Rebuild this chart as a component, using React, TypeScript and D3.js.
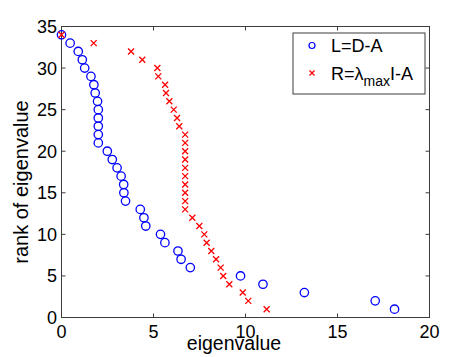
import React from "react";
import * as d3 from "d3";

const ranks = d3.range(1, 35);
const lEigen = [18.1, 17.05, 13.2, 10.95, 9.73, 7.0, 6.5, 6.33, 5.62, 5.38, 4.58, 4.48, 4.28, 3.48, 3.39, 3.38, 3.24, 3.02, 2.76, 2.49, 2.0, 2.0, 2.0, 2.0, 2.0, 1.96, 1.83, 1.76, 1.6, 1.26, 1.13, 0.91, 0.47, 0.0];
const rEigen = [11.15, 10.15, 9.85, 9.12, 8.79, 8.65, 8.4, 8.14, 7.89, 7.76, 7.49, 7.11, 6.72, 6.72, 6.72, 6.72, 6.72, 6.72, 6.72, 6.72, 6.72, 6.72, 6.4, 6.28, 6.1, 5.86, 5.68, 5.63, 5.26, 5.21, 4.39, 3.78, 1.75, 0.0];
const xTicks = [0, 5, 10, 15, 20];
const yTicks = [0, 5, 10, 15, 20, 25, 30, 35];
const xLabel = "eigenvalue";
const yLabel = "rank of eigenvalue";

const W = 474, H = 357;
const left = 61.5, right = 429.5, top = 26.5, bottom = 317.5;

export default function App() {
  const x = d3.scaleLinear().domain([0, 20]).range([left, right]);
  const y = d3.scaleLinear().domain([0, 35]).range([bottom, top]);
  const axisColor = "#3c3c3c";
  const font = "Liberation Sans, Arial, sans-serif";
  const tl = 4;
  const cross = (cx: number, cy: number, s: number, key: string) => (
    <path key={key} d={`M${cx - s},${cy - s}L${cx + s},${cy + s}M${cx - s},${cy + s}L${cx + s},${cy - s}`} stroke="#ff0000" strokeWidth={1.3} fill="none" />
  );
  return (
    <svg width={W} height={H} style={{ position: "absolute", left: 0, top: 0, background: "#fff" }} fontFamily={font}>
      <rect x={0} y={0} width={W} height={H} fill="#fff" />
      <rect x={left} y={top} width={right - left} height={bottom - top} fill="#fff" stroke={axisColor} strokeWidth={1} />
      {xTicks.map((t) => (
        <g key={"xt" + t}>
          <line x1={x(t)} x2={x(t)} y1={bottom} y2={bottom - tl} stroke={axisColor} />
          <line x1={x(t)} x2={x(t)} y1={top} y2={top + tl} stroke={axisColor} />
          <text x={x(t)} y={338} fontSize={18} textAnchor="middle" fill="#000">{t}</text>
        </g>
      ))}
      {yTicks.map((t) => (
        <g key={"yt" + t}>
          <line x1={left} x2={left + tl} y1={y(t)} y2={y(t)} stroke={axisColor} />
          <line x1={right} x2={right - tl} y1={y(t)} y2={y(t)} stroke={axisColor} />
          <text x={57} y={y(t) + 6.5} fontSize={18} textAnchor="end" fill="#000">{t}</text>
        </g>
      ))}
      <text x={234} y={350} fontSize={19.5} textAnchor="middle" fill="#000">{xLabel}</text>
      <text transform={`translate(28,182) rotate(-90)`} fontSize={20} textAnchor="middle" fill="#000">{yLabel}</text>
      {ranks.map((r, i) => (
        <circle key={"l" + r} cx={x(lEigen[i])} cy={y(r)} r={4.2} fill="none" stroke="#0000ff" strokeWidth={1.3} />
      ))}
      {ranks.map((r, i) => cross(x(rEigen[i]), y(r), 3, "r" + r))}
      <g>
        <rect x={293} y={33} width={132} height={61} fill="#fff" stroke={axisColor} strokeWidth={1} />
        <circle cx={312} cy={45.5} r={3} fill="none" stroke="#0000ff" strokeWidth={1.2} />
        <text x={331} y={52} fontSize={18} fill="#000">L=D-A</text>
        {cross(312, 73, 2.5, "legx")}
        <text x={331} y={80} fontSize={18} fill="#000">
          R=λ<tspan fontSize={14} dy={6}>max</tspan><tspan dy={-6}>I-A</tspan>
        </text>
      </g>
    </svg>
  );
}
